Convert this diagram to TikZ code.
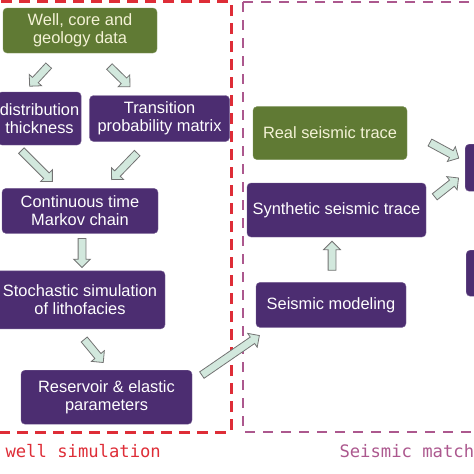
\documentclass[tikz,border=0pt]{standalone}
\usepackage{fontspec}
\setmainfont{Liberation Sans}
\newfontfamily\labelfont{DejaVu Sans Mono}
\usepackage{xcolor}
\usetikzlibrary{positioning,calc,shapes.arrows}

\definecolor{boxpurple}{RGB}{76,45,113}
\definecolor{boxgreen}{RGB}{96,122,52}
\definecolor{textcream}{RGB}{244,242,214}
\definecolor{arrowmint}{RGB}{210,232,221}
\definecolor{framered}{RGB}{222,45,55}
\definecolor{framemauve}{RGB}{172,88,142}

% block arrow between two points
\newcommand{\blockarrow}[2]{%
  \path let \p1=(#1), \p2=(#2), \n1={atan2(\y2-\y1,\x2-\x1)}, \n2={veclen(\x2-\x1,\y2-\y1)} in
    node[barrow, minimum height=\n2, rotate=\n1] at ($(\p1)!0.5!(\p2)$) {};}

\begin{document}
\begin{tikzpicture}[
    x=1pt, y=-1pt,
    box/.style={rounded corners=4pt,align=center,inner sep=2pt,font=\fontsize{16.4}{18}\selectfont},
    pbox/.style={box,fill=boxpurple,draw=boxpurple!75!white,text=white},
    gbox/.style={box,fill=boxgreen,draw=boxgreen!80!white,text=textcream},
    barrow/.style={single arrow,draw=black!55,fill=arrowmint,line width=0.8pt,inner xsep=0pt,inner ysep=3.5pt,single arrow head extend=4.5pt,single arrow head indent=0pt},
    redframe/.style={draw=framered,line width=3pt,dash pattern=on 11pt off 7pt},
    mauveframe/.style={draw=framemauve,line width=2.4pt,dash pattern=on 10pt off 8pt},
    tag/.style={anchor=base west,font=\labelfont\fontsize{17.2}{20}\selectfont}
  ]
    \useasboundingbox (0,0) rectangle (474,474);
    \clip (0,0) rectangle (474,474);

    \draw[redframe] (-20,1) rectangle (231,432);
    \draw[mauveframe] (243,2) rectangle (520,432);
    \node[tag,text=framered] (welltag) at (2,457) {well simulation};
    \node[tag,text=framemauve] (seistag) at (336,457) {Seismic match};

    % well simulation
    \node[gbox,minimum width=154pt,minimum height=45pt] (data) at (80,30.5) {Well, core and\\geology data};
    \node[pbox,minimum width=83pt,minimum height=53pt] (distr) at (39.5,118.5) {distribution\\thickness};
    \node[pbox,minimum width=140pt,minimum height=46pt,right=8pt of distr] (trans) {Transition\\probability matrix};
    \node[pbox,minimum width=156pt,minimum height=45pt,below=135pt of data] (ctmc) {Continuous time\\Markov chain};
    \node[pbox,minimum width=170pt,minimum height=58pt,below=37pt of ctmc] (stoch) {Stochastic simulation\\of lithofacies};
    \node[pbox,minimum width=171pt,minimum height=54pt,below=41pt of stoch,xshift=26.5pt] (resv) {Reservoir \& elastic\\parameters};

    % seismic match
    \node[pbox,minimum width=179pt,minimum height=54pt] (synth) at (336.5,210) {Synthetic seismic trace};
    \node[gbox,minimum width=154pt,minimum height=53pt,above=23pt of synth,xshift=-6.5pt] (real) {Real seismic trace};
    \node[pbox,minimum width=150pt,minimum height=45pt,below=45pt of synth,xshift=-5.5pt] (model) {Seismic modeling};
    \node[pbox,minimum width=70pt,minimum height=47pt,anchor=north west] (match) at (465,144) {};
    \node[pbox,minimum width=70pt,minimum height=46pt,anchor=north west] (update) at (466,250) {};

    \blockarrow{$(data.south)+(-30,11)$}{$(distr.north)+(-8.5,-7)$}
    \blockarrow{$(data.south)+(28,12)$}{$(trans.north)+(-31,-10)$}
    \blockarrow{$(distr.south)+(-19.5,4)$}{$(ctmc.north)+(-29,-8)$}
    \blockarrow{$(trans.south)+(-21,10)$}{$(ctmc.north)+(33,-10)$}
    \blockarrow{$(ctmc.south)+(2,3)$}{$(stoch.north)+(2,-5)$}
    \blockarrow{$(stoch.south)+(3,9)$}{$(resv.north)+(-4.5,-9)$}
    \blockarrow{$(resv.east)+(8,-21)$}{$(model.south west)+(2,9)$}
    \blockarrow{$(model.north)+(1,-10)$}{$(synth.south)+(-4.5,6)$}
    \blockarrow{$(real.east)+(21,8.5)$}{$(match.west)+(-8,-10.5)$}
    \blockarrow{$(synth.east)+(7,-12)$}{$(match.west)+(-8,11.5)$}
  \end{tikzpicture}
\end{document}
